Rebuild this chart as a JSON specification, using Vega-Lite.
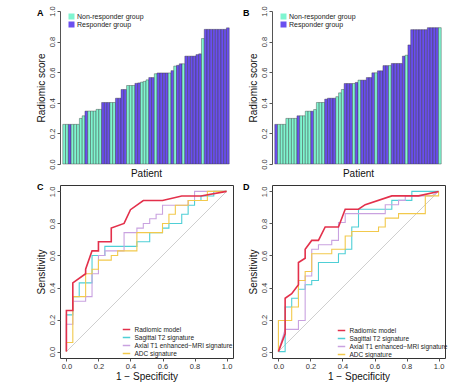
{
"$schema":"https://vega.github.io/schema/vega-lite/v6.json",
"padding":{"left":35,"top":5,"right":5,"bottom":3},
"config":{
"font":"Liberation Sans",
"view":{"stroke":null},
"axis":{"labelFontSize":7.5,"titleFontSize":10,"titleFontWeight":"normal","labelColor":"#333","titleColor":"#111","tickColor":"#555","domainColor":"#555","grid":false,"tickSize":3},
"legend":{"labelFontSize":7,"labelColor":"#222","padding":0,"rowPadding":0,"title":null},
"title":{"fontSize":9,"fontWeight":"bold","color":"#000","anchor":"start","frame":"bounds"}
},
"datasets":{
"barsA":[
{"patient":1,"score":0.259,"group":"Non-responder group"},
{"patient":2,"score":0.259,"group":"Non-responder group"},
{"patient":3,"score":0.259,"group":"Responder group"},
{"patient":4,"score":0.259,"group":"Non-responder group"},
{"patient":5,"score":0.259,"group":"Non-responder group"},
{"patient":6,"score":0.259,"group":"Non-responder group"},
{"patient":7,"score":0.298,"group":"Non-responder group"},
{"patient":8,"score":0.315,"group":"Non-responder group"},
{"patient":9,"score":0.346,"group":"Responder group"},
{"patient":10,"score":0.346,"group":"Non-responder group"},
{"patient":11,"score":0.346,"group":"Non-responder group"},
{"patient":12,"score":0.346,"group":"Non-responder group"},
{"patient":13,"score":0.357,"group":"Non-responder group"},
{"patient":14,"score":0.357,"group":"Non-responder group"},
{"patient":15,"score":0.402,"group":"Responder group"},
{"patient":16,"score":0.402,"group":"Responder group"},
{"patient":17,"score":0.402,"group":"Responder group"},
{"patient":18,"score":0.402,"group":"Non-responder group"},
{"patient":19,"score":0.402,"group":"Non-responder group"},
{"patient":20,"score":0.43,"group":"Responder group"},
{"patient":21,"score":0.43,"group":"Responder group"},
{"patient":22,"score":0.487,"group":"Responder group"},
{"patient":23,"score":0.487,"group":"Responder group"},
{"patient":24,"score":0.513,"group":"Non-responder group"},
{"patient":25,"score":0.513,"group":"Non-responder group"},
{"patient":26,"score":0.513,"group":"Non-responder group"},
{"patient":27,"score":0.527,"group":"Responder group"},
{"patient":28,"score":0.53,"group":"Responder group"},
{"patient":29,"score":0.535,"group":"Non-responder group"},
{"patient":30,"score":0.54,"group":"Non-responder group"},
{"patient":31,"score":0.55,"group":"Non-responder group"},
{"patient":32,"score":0.565,"group":"Responder group"},
{"patient":33,"score":0.565,"group":"Responder group"},
{"patient":34,"score":0.59,"group":"Non-responder group"},
{"patient":35,"score":0.595,"group":"Responder group"},
{"patient":36,"score":0.595,"group":"Responder group"},
{"patient":37,"score":0.595,"group":"Responder group"},
{"patient":38,"score":0.595,"group":"Responder group"},
{"patient":39,"score":0.595,"group":"Non-responder group"},
{"patient":40,"score":0.61,"group":"Responder group"},
{"patient":41,"score":0.64,"group":"Non-responder group"},
{"patient":42,"score":0.645,"group":"Responder group"},
{"patient":43,"score":0.655,"group":"Responder group"},
{"patient":44,"score":0.655,"group":"Non-responder group"},
{"patient":45,"score":0.705,"group":"Responder group"},
{"patient":46,"score":0.705,"group":"Responder group"},
{"patient":47,"score":0.705,"group":"Responder group"},
{"patient":48,"score":0.705,"group":"Responder group"},
{"patient":49,"score":0.715,"group":"Responder group"},
{"patient":50,"score":0.72,"group":"Responder group"},
{"patient":51,"score":0.82,"group":"Non-responder group"},
{"patient":52,"score":0.88,"group":"Responder group"},
{"patient":53,"score":0.88,"group":"Responder group"},
{"patient":54,"score":0.88,"group":"Responder group"},
{"patient":55,"score":0.88,"group":"Responder group"},
{"patient":56,"score":0.88,"group":"Responder group"},
{"patient":57,"score":0.88,"group":"Responder group"},
{"patient":58,"score":0.88,"group":"Responder group"},
{"patient":59,"score":0.88,"group":"Responder group"},
{"patient":60,"score":0.89,"group":"Responder group"}
],
"barsB":[
{"patient":1,"score":0.259,"group":"Responder group"},
{"patient":2,"score":0.259,"group":"Non-responder group"},
{"patient":3,"score":0.259,"group":"Non-responder group"},
{"patient":4,"score":0.259,"group":"Non-responder group"},
{"patient":5,"score":0.298,"group":"Non-responder group"},
{"patient":6,"score":0.298,"group":"Non-responder group"},
{"patient":7,"score":0.298,"group":"Non-responder group"},
{"patient":8,"score":0.298,"group":"Non-responder group"},
{"patient":9,"score":0.315,"group":"Responder group"},
{"patient":10,"score":0.315,"group":"Non-responder group"},
{"patient":11,"score":0.315,"group":"Non-responder group"},
{"patient":12,"score":0.345,"group":"Non-responder group"},
{"patient":13,"score":0.345,"group":"Non-responder group"},
{"patient":14,"score":0.345,"group":"Responder group"},
{"patient":15,"score":0.356,"group":"Non-responder group"},
{"patient":16,"score":0.402,"group":"Non-responder group"},
{"patient":17,"score":0.402,"group":"Non-responder group"},
{"patient":18,"score":0.402,"group":"Non-responder group"},
{"patient":19,"score":0.424,"group":"Responder group"},
{"patient":20,"score":0.43,"group":"Responder group"},
{"patient":21,"score":0.43,"group":"Responder group"},
{"patient":22,"score":0.43,"group":"Responder group"},
{"patient":23,"score":0.44,"group":"Non-responder group"},
{"patient":24,"score":0.465,"group":"Non-responder group"},
{"patient":25,"score":0.487,"group":"Non-responder group"},
{"patient":26,"score":0.526,"group":"Responder group"},
{"patient":27,"score":0.526,"group":"Responder group"},
{"patient":28,"score":0.526,"group":"Responder group"},
{"patient":29,"score":0.526,"group":"Non-responder group"},
{"patient":30,"score":0.533,"group":"Responder group"},
{"patient":31,"score":0.548,"group":"Non-responder group"},
{"patient":32,"score":0.548,"group":"Responder group"},
{"patient":33,"score":0.548,"group":"Responder group"},
{"patient":34,"score":0.565,"group":"Responder group"},
{"patient":35,"score":0.565,"group":"Responder group"},
{"patient":36,"score":0.596,"group":"Responder group"},
{"patient":37,"score":0.596,"group":"Non-responder group"},
{"patient":38,"score":0.609,"group":"Responder group"},
{"patient":39,"score":0.609,"group":"Responder group"},
{"patient":40,"score":0.643,"group":"Responder group"},
{"patient":41,"score":0.643,"group":"Responder group"},
{"patient":42,"score":0.643,"group":"Non-responder group"},
{"patient":43,"score":0.657,"group":"Responder group"},
{"patient":44,"score":0.657,"group":"Responder group"},
{"patient":45,"score":0.657,"group":"Responder group"},
{"patient":46,"score":0.657,"group":"Responder group"},
{"patient":47,"score":0.705,"group":"Responder group"},
{"patient":48,"score":0.711,"group":"Non-responder group"},
{"patient":49,"score":0.778,"group":"Responder group"},
{"patient":50,"score":0.878,"group":"Responder group"},
{"patient":51,"score":0.878,"group":"Responder group"},
{"patient":52,"score":0.878,"group":"Responder group"},
{"patient":53,"score":0.878,"group":"Responder group"},
{"patient":54,"score":0.878,"group":"Responder group"},
{"patient":55,"score":0.878,"group":"Responder group"},
{"patient":56,"score":0.891,"group":"Responder group"},
{"patient":57,"score":0.891,"group":"Responder group"},
{"patient":58,"score":0.891,"group":"Responder group"},
{"patient":59,"score":0.891,"group":"Responder group"},
{"patient":60,"score":0.891,"group":"Non-responder group"}
],
"rocC":[
{"model":"Radiomic model","k":1,"fpr":0,"tpr":0},
{"model":"Radiomic model","k":2,"fpr":0,"tpr":0.257},
{"model":"Radiomic model","k":3,"fpr":0.04,"tpr":0.257},
{"model":"Radiomic model","k":4,"fpr":0.04,"tpr":0.429},
{"model":"Radiomic model","k":5,"fpr":0.12,"tpr":0.486},
{"model":"Radiomic model","k":6,"fpr":0.12,"tpr":0.514},
{"model":"Radiomic model","k":7,"fpr":0.16,"tpr":0.629},
{"model":"Radiomic model","k":8,"fpr":0.2,"tpr":0.629},
{"model":"Radiomic model","k":9,"fpr":0.2,"tpr":0.686},
{"model":"Radiomic model","k":10,"fpr":0.28,"tpr":0.686},
{"model":"Radiomic model","k":11,"fpr":0.28,"tpr":0.771},
{"model":"Radiomic model","k":12,"fpr":0.36,"tpr":0.8},
{"model":"Radiomic model","k":13,"fpr":0.4,"tpr":0.886},
{"model":"Radiomic model","k":14,"fpr":0.48,"tpr":0.943},
{"model":"Radiomic model","k":15,"fpr":0.6,"tpr":0.943},
{"model":"Radiomic model","k":16,"fpr":0.72,"tpr":0.971},
{"model":"Radiomic model","k":17,"fpr":0.84,"tpr":0.971},
{"model":"Radiomic model","k":18,"fpr":1,"tpr":1},
{"model":"Sagittal T2 signature","k":1,"fpr":0,"tpr":0},
{"model":"Sagittal T2 signature","k":2,"fpr":0,"tpr":0.229},
{"model":"Sagittal T2 signature","k":3,"fpr":0.04,"tpr":0.229},
{"model":"Sagittal T2 signature","k":4,"fpr":0.04,"tpr":0.343},
{"model":"Sagittal T2 signature","k":5,"fpr":0.08,"tpr":0.343},
{"model":"Sagittal T2 signature","k":6,"fpr":0.08,"tpr":0.429},
{"model":"Sagittal T2 signature","k":7,"fpr":0.16,"tpr":0.429},
{"model":"Sagittal T2 signature","k":8,"fpr":0.16,"tpr":0.6},
{"model":"Sagittal T2 signature","k":9,"fpr":0.24,"tpr":0.6},
{"model":"Sagittal T2 signature","k":10,"fpr":0.24,"tpr":0.657},
{"model":"Sagittal T2 signature","k":11,"fpr":0.44,"tpr":0.657},
{"model":"Sagittal T2 signature","k":12,"fpr":0.44,"tpr":0.686},
{"model":"Sagittal T2 signature","k":13,"fpr":0.52,"tpr":0.686},
{"model":"Sagittal T2 signature","k":14,"fpr":0.52,"tpr":0.743},
{"model":"Sagittal T2 signature","k":15,"fpr":0.6,"tpr":0.743},
{"model":"Sagittal T2 signature","k":16,"fpr":0.6,"tpr":0.771},
{"model":"Sagittal T2 signature","k":17,"fpr":0.64,"tpr":0.771},
{"model":"Sagittal T2 signature","k":18,"fpr":0.64,"tpr":0.8},
{"model":"Sagittal T2 signature","k":19,"fpr":0.72,"tpr":0.8},
{"model":"Sagittal T2 signature","k":20,"fpr":0.72,"tpr":0.857},
{"model":"Sagittal T2 signature","k":21,"fpr":0.76,"tpr":0.857},
{"model":"Sagittal T2 signature","k":22,"fpr":0.76,"tpr":0.914},
{"model":"Sagittal T2 signature","k":23,"fpr":0.8,"tpr":0.914},
{"model":"Sagittal T2 signature","k":24,"fpr":0.8,"tpr":0.943},
{"model":"Sagittal T2 signature","k":25,"fpr":0.84,"tpr":0.943},
{"model":"Sagittal T2 signature","k":26,"fpr":0.84,"tpr":0.971},
{"model":"Sagittal T2 signature","k":27,"fpr":0.92,"tpr":0.971},
{"model":"Sagittal T2 signature","k":28,"fpr":0.92,"tpr":1},
{"model":"Sagittal T2 signature","k":29,"fpr":1,"tpr":1},
{"model":"Axial T1 enhanced−MRI signature","k":1,"fpr":0,"tpr":0},
{"model":"Axial T1 enhanced−MRI signature","k":2,"fpr":0,"tpr":0.171},
{"model":"Axial T1 enhanced−MRI signature","k":3,"fpr":0.04,"tpr":0.171},
{"model":"Axial T1 enhanced−MRI signature","k":4,"fpr":0.04,"tpr":0.314},
{"model":"Axial T1 enhanced−MRI signature","k":5,"fpr":0.12,"tpr":0.314},
{"model":"Axial T1 enhanced−MRI signature","k":6,"fpr":0.12,"tpr":0.343},
{"model":"Axial T1 enhanced−MRI signature","k":7,"fpr":0.16,"tpr":0.343},
{"model":"Axial T1 enhanced−MRI signature","k":8,"fpr":0.16,"tpr":0.486},
{"model":"Axial T1 enhanced−MRI signature","k":9,"fpr":0.2,"tpr":0.486},
{"model":"Axial T1 enhanced−MRI signature","k":10,"fpr":0.2,"tpr":0.6},
{"model":"Axial T1 enhanced−MRI signature","k":11,"fpr":0.24,"tpr":0.6},
{"model":"Axial T1 enhanced−MRI signature","k":12,"fpr":0.24,"tpr":0.629},
{"model":"Axial T1 enhanced−MRI signature","k":13,"fpr":0.36,"tpr":0.629},
{"model":"Axial T1 enhanced−MRI signature","k":14,"fpr":0.36,"tpr":0.743},
{"model":"Axial T1 enhanced−MRI signature","k":15,"fpr":0.44,"tpr":0.743},
{"model":"Axial T1 enhanced−MRI signature","k":16,"fpr":0.44,"tpr":0.771},
{"model":"Axial T1 enhanced−MRI signature","k":17,"fpr":0.48,"tpr":0.771},
{"model":"Axial T1 enhanced−MRI signature","k":18,"fpr":0.48,"tpr":0.8},
{"model":"Axial T1 enhanced−MRI signature","k":19,"fpr":0.52,"tpr":0.8},
{"model":"Axial T1 enhanced−MRI signature","k":20,"fpr":0.52,"tpr":0.829},
{"model":"Axial T1 enhanced−MRI signature","k":21,"fpr":0.56,"tpr":0.829},
{"model":"Axial T1 enhanced−MRI signature","k":22,"fpr":0.56,"tpr":0.857},
{"model":"Axial T1 enhanced−MRI signature","k":23,"fpr":0.6,"tpr":0.857},
{"model":"Axial T1 enhanced−MRI signature","k":24,"fpr":0.6,"tpr":0.914},
{"model":"Axial T1 enhanced−MRI signature","k":25,"fpr":0.76,"tpr":0.914},
{"model":"Axial T1 enhanced−MRI signature","k":26,"fpr":0.76,"tpr":0.943},
{"model":"Axial T1 enhanced−MRI signature","k":27,"fpr":0.8,"tpr":0.943},
{"model":"Axial T1 enhanced−MRI signature","k":28,"fpr":0.8,"tpr":1},
{"model":"Axial T1 enhanced−MRI signature","k":29,"fpr":1,"tpr":1},
{"model":"ADC signature","k":1,"fpr":0,"tpr":0},
{"model":"ADC signature","k":2,"fpr":0,"tpr":0.057},
{"model":"ADC signature","k":3,"fpr":0.04,"tpr":0.057},
{"model":"ADC signature","k":4,"fpr":0.04,"tpr":0.343},
{"model":"ADC signature","k":5,"fpr":0.12,"tpr":0.343},
{"model":"ADC signature","k":6,"fpr":0.12,"tpr":0.486},
{"model":"ADC signature","k":7,"fpr":0.16,"tpr":0.486},
{"model":"ADC signature","k":8,"fpr":0.16,"tpr":0.514},
{"model":"ADC signature","k":9,"fpr":0.2,"tpr":0.514},
{"model":"ADC signature","k":10,"fpr":0.2,"tpr":0.571},
{"model":"ADC signature","k":11,"fpr":0.28,"tpr":0.571},
{"model":"ADC signature","k":12,"fpr":0.28,"tpr":0.6},
{"model":"ADC signature","k":13,"fpr":0.32,"tpr":0.6},
{"model":"ADC signature","k":14,"fpr":0.32,"tpr":0.629},
{"model":"ADC signature","k":15,"fpr":0.44,"tpr":0.629},
{"model":"ADC signature","k":16,"fpr":0.44,"tpr":0.743},
{"model":"ADC signature","k":17,"fpr":0.6,"tpr":0.743},
{"model":"ADC signature","k":18,"fpr":0.6,"tpr":0.8},
{"model":"ADC signature","k":19,"fpr":0.64,"tpr":0.8},
{"model":"ADC signature","k":20,"fpr":0.64,"tpr":0.857},
{"model":"ADC signature","k":21,"fpr":0.68,"tpr":0.857},
{"model":"ADC signature","k":22,"fpr":0.68,"tpr":0.914},
{"model":"ADC signature","k":23,"fpr":0.76,"tpr":0.914},
{"model":"ADC signature","k":24,"fpr":0.76,"tpr":0.943},
{"model":"ADC signature","k":25,"fpr":0.88,"tpr":0.943},
{"model":"ADC signature","k":26,"fpr":0.88,"tpr":1},
{"model":"ADC signature","k":27,"fpr":1,"tpr":1}
],
"rocD":[
{"model":"Radiomic model","k":1,"fpr":0,"tpr":0},
{"model":"Radiomic model","k":2,"fpr":0.042,"tpr":0.111},
{"model":"Radiomic model","k":3,"fpr":0.042,"tpr":0.333},
{"model":"Radiomic model","k":4,"fpr":0.083,"tpr":0.361},
{"model":"Radiomic model","k":5,"fpr":0.125,"tpr":0.417},
{"model":"Radiomic model","k":6,"fpr":0.125,"tpr":0.556},
{"model":"Radiomic model","k":7,"fpr":0.167,"tpr":0.583},
{"model":"Radiomic model","k":8,"fpr":0.167,"tpr":0.639},
{"model":"Radiomic model","k":9,"fpr":0.208,"tpr":0.694},
{"model":"Radiomic model","k":10,"fpr":0.25,"tpr":0.694},
{"model":"Radiomic model","k":11,"fpr":0.292,"tpr":0.778},
{"model":"Radiomic model","k":12,"fpr":0.375,"tpr":0.778},
{"model":"Radiomic model","k":13,"fpr":0.417,"tpr":0.889},
{"model":"Radiomic model","k":14,"fpr":0.5,"tpr":0.889},
{"model":"Radiomic model","k":15,"fpr":0.542,"tpr":0.917},
{"model":"Radiomic model","k":16,"fpr":0.708,"tpr":0.972},
{"model":"Radiomic model","k":17,"fpr":0.875,"tpr":0.972},
{"model":"Radiomic model","k":18,"fpr":1,"tpr":1},
{"model":"Sagittal T2 signature","k":1,"fpr":0,"tpr":0},
{"model":"Sagittal T2 signature","k":2,"fpr":0.042,"tpr":0},
{"model":"Sagittal T2 signature","k":3,"fpr":0.042,"tpr":0.278},
{"model":"Sagittal T2 signature","k":4,"fpr":0.083,"tpr":0.278},
{"model":"Sagittal T2 signature","k":5,"fpr":0.083,"tpr":0.333},
{"model":"Sagittal T2 signature","k":6,"fpr":0.125,"tpr":0.333},
{"model":"Sagittal T2 signature","k":7,"fpr":0.125,"tpr":0.389},
{"model":"Sagittal T2 signature","k":8,"fpr":0.167,"tpr":0.389},
{"model":"Sagittal T2 signature","k":9,"fpr":0.167,"tpr":0.417},
{"model":"Sagittal T2 signature","k":10,"fpr":0.208,"tpr":0.417},
{"model":"Sagittal T2 signature","k":11,"fpr":0.208,"tpr":0.444},
{"model":"Sagittal T2 signature","k":12,"fpr":0.25,"tpr":0.444},
{"model":"Sagittal T2 signature","k":13,"fpr":0.25,"tpr":0.556},
{"model":"Sagittal T2 signature","k":14,"fpr":0.375,"tpr":0.556},
{"model":"Sagittal T2 signature","k":15,"fpr":0.375,"tpr":0.611},
{"model":"Sagittal T2 signature","k":16,"fpr":0.417,"tpr":0.611},
{"model":"Sagittal T2 signature","k":17,"fpr":0.417,"tpr":0.639},
{"model":"Sagittal T2 signature","k":18,"fpr":0.458,"tpr":0.639},
{"model":"Sagittal T2 signature","k":19,"fpr":0.458,"tpr":0.778},
{"model":"Sagittal T2 signature","k":20,"fpr":0.5,"tpr":0.778},
{"model":"Sagittal T2 signature","k":21,"fpr":0.5,"tpr":0.889},
{"model":"Sagittal T2 signature","k":22,"fpr":0.708,"tpr":0.889},
{"model":"Sagittal T2 signature","k":23,"fpr":0.708,"tpr":0.944},
{"model":"Sagittal T2 signature","k":24,"fpr":0.833,"tpr":0.944},
{"model":"Sagittal T2 signature","k":25,"fpr":0.833,"tpr":1},
{"model":"Sagittal T2 signature","k":26,"fpr":1,"tpr":1},
{"model":"Axial T1 enhanced−MRI signature","k":1,"fpr":0,"tpr":0},
{"model":"Axial T1 enhanced−MRI signature","k":2,"fpr":0.042,"tpr":0.139},
{"model":"Axial T1 enhanced−MRI signature","k":3,"fpr":0.125,"tpr":0.139},
{"model":"Axial T1 enhanced−MRI signature","k":4,"fpr":0.125,"tpr":0.194},
{"model":"Axial T1 enhanced−MRI signature","k":5,"fpr":0.167,"tpr":0.194},
{"model":"Axial T1 enhanced−MRI signature","k":6,"fpr":0.167,"tpr":0.472},
{"model":"Axial T1 enhanced−MRI signature","k":7,"fpr":0.208,"tpr":0.472},
{"model":"Axial T1 enhanced−MRI signature","k":8,"fpr":0.208,"tpr":0.639},
{"model":"Axial T1 enhanced−MRI signature","k":9,"fpr":0.25,"tpr":0.639},
{"model":"Axial T1 enhanced−MRI signature","k":10,"fpr":0.25,"tpr":0.667},
{"model":"Axial T1 enhanced−MRI signature","k":11,"fpr":0.333,"tpr":0.667},
{"model":"Axial T1 enhanced−MRI signature","k":12,"fpr":0.333,"tpr":0.694},
{"model":"Axial T1 enhanced−MRI signature","k":13,"fpr":0.375,"tpr":0.694},
{"model":"Axial T1 enhanced−MRI signature","k":14,"fpr":0.375,"tpr":0.806},
{"model":"Axial T1 enhanced−MRI signature","k":15,"fpr":0.417,"tpr":0.806},
{"model":"Axial T1 enhanced−MRI signature","k":16,"fpr":0.417,"tpr":0.861},
{"model":"Axial T1 enhanced−MRI signature","k":17,"fpr":0.667,"tpr":0.861},
{"model":"Axial T1 enhanced−MRI signature","k":18,"fpr":0.667,"tpr":0.917},
{"model":"Axial T1 enhanced−MRI signature","k":19,"fpr":0.75,"tpr":0.917},
{"model":"Axial T1 enhanced−MRI signature","k":20,"fpr":0.75,"tpr":0.944},
{"model":"Axial T1 enhanced−MRI signature","k":21,"fpr":0.792,"tpr":0.944},
{"model":"Axial T1 enhanced−MRI signature","k":22,"fpr":0.792,"tpr":0.972},
{"model":"Axial T1 enhanced−MRI signature","k":23,"fpr":0.958,"tpr":0.972},
{"model":"Axial T1 enhanced−MRI signature","k":24,"fpr":1,"tpr":1},
{"model":"ADC signature","k":1,"fpr":0,"tpr":0},
{"model":"ADC signature","k":2,"fpr":0,"tpr":0.194},
{"model":"ADC signature","k":3,"fpr":0.083,"tpr":0.194},
{"model":"ADC signature","k":4,"fpr":0.083,"tpr":0.278},
{"model":"ADC signature","k":5,"fpr":0.125,"tpr":0.278},
{"model":"ADC signature","k":6,"fpr":0.125,"tpr":0.444},
{"model":"ADC signature","k":7,"fpr":0.167,"tpr":0.444},
{"model":"ADC signature","k":8,"fpr":0.167,"tpr":0.5},
{"model":"ADC signature","k":9,"fpr":0.208,"tpr":0.5},
{"model":"ADC signature","k":10,"fpr":0.208,"tpr":0.611},
{"model":"ADC signature","k":11,"fpr":0.333,"tpr":0.611},
{"model":"ADC signature","k":12,"fpr":0.333,"tpr":0.639},
{"model":"ADC signature","k":13,"fpr":0.417,"tpr":0.639},
{"model":"ADC signature","k":14,"fpr":0.417,"tpr":0.722},
{"model":"ADC signature","k":15,"fpr":0.458,"tpr":0.722},
{"model":"ADC signature","k":16,"fpr":0.458,"tpr":0.75},
{"model":"ADC signature","k":17,"fpr":0.625,"tpr":0.75},
{"model":"ADC signature","k":18,"fpr":0.625,"tpr":0.778},
{"model":"ADC signature","k":19,"fpr":0.667,"tpr":0.778},
{"model":"ADC signature","k":20,"fpr":0.667,"tpr":0.833},
{"model":"ADC signature","k":21,"fpr":0.75,"tpr":0.833},
{"model":"ADC signature","k":22,"fpr":0.75,"tpr":0.861},
{"model":"ADC signature","k":23,"fpr":0.917,"tpr":0.861},
{"model":"ADC signature","k":24,"fpr":0.917,"tpr":0.972},
{"model":"ADC signature","k":25,"fpr":1,"tpr":0.972},
{"model":"ADC signature","k":26,"fpr":1,"tpr":1}
],
"diag":[{"fpr":0,"tpr":0},{"fpr":1,"tpr":1}]
},
"columns":2,
"spacing":{"row":4,"column":8},
"resolve":{"scale":{"x":"independent","y":"independent","color":"independent"},"legend":{"color":"independent"}},
"concat":[
{
"width":172,"height":153,
"title":{"text":"A","offset":-12,"dx":1},
"data":{"name":"barsA"},
"mark":{"type":"bar","stroke":"#333","strokeWidth":0.4},
"encoding":{
"x":{"field":"patient","type":"ordinal","scale":{"paddingInner":0,"paddingOuter":2.25},"axis":{"title":"Patient","labels":false,"ticks":false,"domain":false,"titlePadding":4}},
"y":{"field":"score","type":"quantitative","scale":{"domain":[0,1],"nice":false},"axis":{"title":"Radiomic score","values":[0,0.2,0.4,0.6,0.8,1],"format":".1f","labelAngle":270,"labelAlign":"center","labelBaseline":"bottom","labelPadding":1,"titlePadding":2}},
"color":{"field":"group","type":"nominal","scale":{"domain":["Non-responder group","Responder group"],"range":["#7FF5D0","#6A4FEF"]},"legend":{"orient":"none","legendX":8,"legendY":2,"symbolType":"square","symbolSize":36,"symbolStrokeWidth":0,"labelOffset":2}}
}
},
{
"width":172,"height":153,
"title":{"text":"B","offset":-12,"dx":-5},
"data":{"name":"barsB"},
"mark":{"type":"bar","stroke":"#333","strokeWidth":0.4},
"encoding":{
"x":{"field":"patient","type":"ordinal","scale":{"paddingInner":0,"paddingOuter":2.25},"axis":{"title":"Patient","labels":false,"ticks":false,"domain":false,"titlePadding":4}},
"y":{"field":"score","type":"quantitative","scale":{"domain":[0,1],"nice":false},"axis":{"title":"Radiomic score","values":[0,0.2,0.4,0.6,0.8,1],"format":".1f","labelAngle":270,"labelAlign":"center","labelBaseline":"bottom","labelPadding":1,"titlePadding":2}},
"color":{"field":"group","type":"nominal","scale":{"domain":["Non-responder group","Responder group"],"range":["#7FF5D0","#6A4FEF"]},"legend":{"orient":"none","legendX":8,"legendY":2,"symbolType":"square","symbolSize":36,"symbolStrokeWidth":0,"labelOffset":2}}
}
},
{
"width":173,"height":173,
"view":{"stroke":"#333","strokeWidth":1},
"title":{"text":"C","offset":-7,"dx":1},
"encoding":{
"x":{"field":"fpr","type":"quantitative","scale":{"domain":[-0.04,1.04],"nice":false,"zero":false},"axis":{"title":"1 − Specificity","values":[0,0.2,0.4,0.6,0.8,1],"format":".1f","domain":false,"labelPadding":1,"titlePadding":2}},
"y":{"field":"tpr","type":"quantitative","scale":{"domain":[-0.04,1.04],"nice":false,"zero":false},"axis":{"title":"Sensitivity","values":[0,0.2,0.4,0.6,0.8,1],"format":".1f","domain":false,"labelAngle":270,"labelAlign":"center","labelBaseline":"bottom","labelPadding":1,"titlePadding":2}}
},
"layer":[
{"data":{"name":"diag"},"mark":{"type":"line","color":"#cfcfcf","strokeWidth":1},"encoding":{}},
{"data":{"name":"rocC"},"transform":[{"filter":"datum.model !== 'Radiomic model'"}],"mark":{"type":"line","strokeWidth":1.1},
"encoding":{"order":{"field":"k","type":"quantitative"},"color":{"field":"model","type":"nominal","scale":{"domain":["Radiomic model","Sagittal T2 signature","Axial T1 enhanced−MRI signature","ADC signature"],"range":["#E3304B","#4FCFD6","#C9A2E0","#F2C94C"]},"legend":{"orient":"none","legendX":62,"legendY":140,"symbolType":"stroke","symbolSize":56,"symbolStrokeWidth":1.5,"labelOffset":3.5,"labelFontSize":6.5,"rowPadding":-2}}}},
{"data":{"name":"rocC"},"transform":[{"filter":"datum.model === 'Radiomic model'"}],"mark":{"type":"line","strokeWidth":1.6},
"encoding":{"order":{"field":"k","type":"quantitative"},"color":{"field":"model","type":"nominal"}}}
]
},
{
"width":173,"height":173,
"view":{"stroke":"#333","strokeWidth":1},
"title":{"text":"D","offset":-7,"dx":-5},
"encoding":{
"x":{"field":"fpr","type":"quantitative","scale":{"domain":[-0.04,1.04],"nice":false,"zero":false},"axis":{"title":"1 − Specificity","values":[0,0.2,0.4,0.6,0.8,1],"format":".1f","domain":false,"labelPadding":1,"titlePadding":2}},
"y":{"field":"tpr","type":"quantitative","scale":{"domain":[-0.04,1.04],"nice":false,"zero":false},"axis":{"title":"Sensitivity","values":[0,0.2,0.4,0.6,0.8,1],"format":".1f","domain":false,"labelAngle":270,"labelAlign":"center","labelBaseline":"bottom","labelPadding":1,"titlePadding":2}}
},
"layer":[
{"data":{"name":"diag"},"mark":{"type":"line","color":"#cfcfcf","strokeWidth":1},"encoding":{}},
{"data":{"name":"rocD"},"transform":[{"filter":"datum.model !== 'Radiomic model'"}],"mark":{"type":"line","strokeWidth":1.1},
"encoding":{"order":{"field":"k","type":"quantitative"},"color":{"field":"model","type":"nominal","scale":{"domain":["Radiomic model","Sagittal T2 signature","Axial T1 enhanced−MRI signature","ADC signature"],"range":["#E3304B","#4FCFD6","#C9A2E0","#F2C94C"]},"legend":{"orient":"none","legendX":65,"legendY":141,"symbolType":"stroke","symbolSize":56,"symbolStrokeWidth":1.5,"labelOffset":3.5,"labelFontSize":6.5,"rowPadding":-2}}}},
{"data":{"name":"rocD"},"transform":[{"filter":"datum.model === 'Radiomic model'"}],"mark":{"type":"line","strokeWidth":1.6},
"encoding":{"order":{"field":"k","type":"quantitative"},"color":{"field":"model","type":"nominal"}}}
]
}
]
}
